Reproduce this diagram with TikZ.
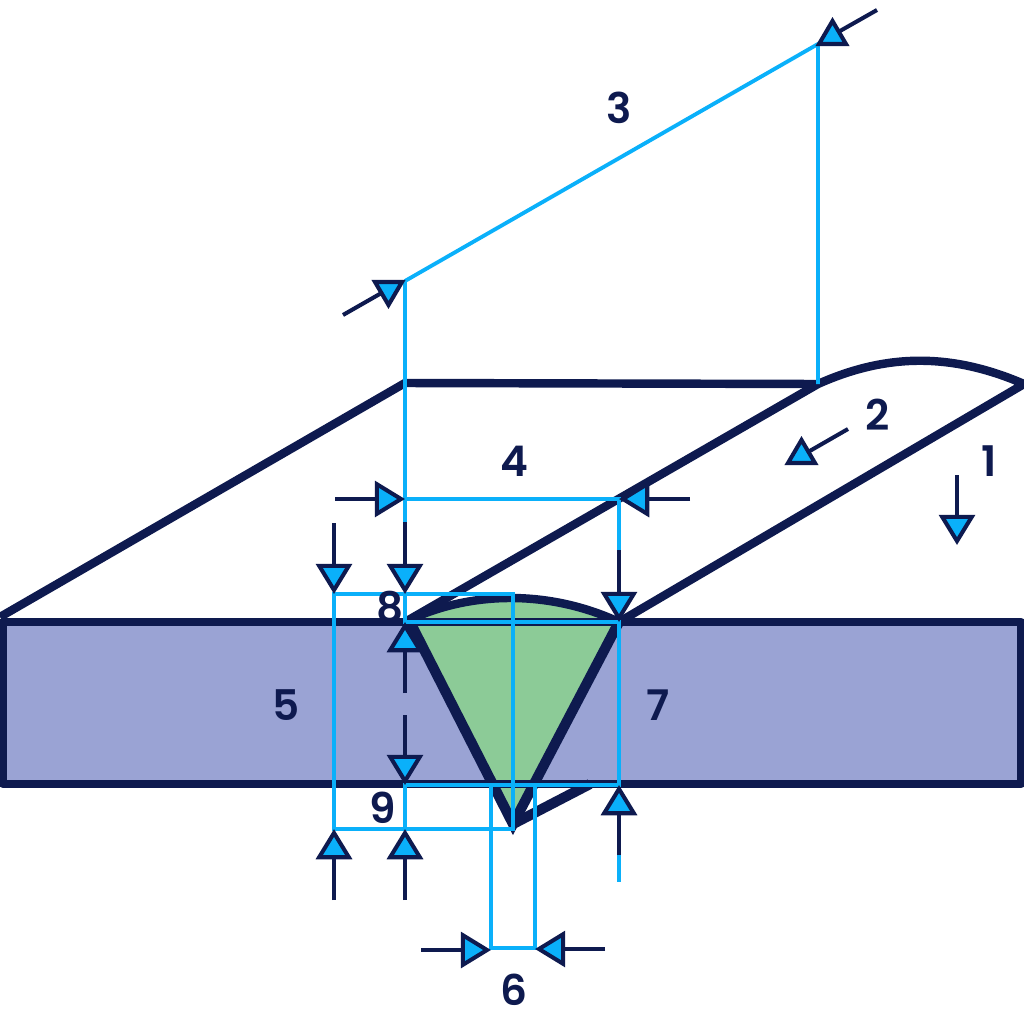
\documentclass[tikz,border=0pt]{standalone}
\usepackage{fontspec}
\setmainfont{Poppins SemiBold}
\usetikzlibrary{arrows.meta}
\definecolor{navy}{HTML}{0E1A4F}
\definecolor{sky}{HTML}{0AB0FA}
\definecolor{plate}{HTML}{9AA3D4}
\definecolor{bead}{HTML}{8CCB97}
\begin{document}
\begin{tikzpicture}[x=0.01cm, y=-0.01cm,% styles used in image code
   > = {Triangle[length=8.6pt, width=10.2pt, fill=sky, color=navy]},
edge/.style = {draw=navy, line width=2.4pt, line join=round},
guide/.style = {draw=sky, line width=1.1pt},
dim/.style = {draw=navy, line width=1.15pt, ->},
tri/.style = {draw=navy, fill=sky, line width=1.15pt, line join=miter},
num/.style = {text=navy, font=\fontsize{12}{12}\selectfont, inner sep=0pt}
                        ]
	\useasboundingbox (0,0) rectangle (1024,1024);

	\coordinate (L) at (405,622);
	\coordinate (V) at (410,622);
	\coordinate (R) at (619,622);
	\coordinate (root) at (513,824);
	\coordinate (backL) at (405,383);
	\coordinate (backR) at (818,384);
	\coordinate (tipR) at (1024,384);
	\coordinate (farL) at (405,281);
	\coordinate (farR) at (818,44);

	% plate and weld
	\path[fill=plate] (3,622) rectangle (1021,784);
	\path[fill=bead] (L) .. controls (470,590) and (550,590) .. (R) -- (root) -- cycle;
	\draw[edge] (3,622) rectangle (1021,784);
	\draw[edge] (0,617) -- (backL) -- (backR);
	\draw[edge] (L) -- (backR) .. controls (885,354) and (950,352) .. (tipR) -- (R);
	\draw[edge] (L) .. controls (470,590) and (550,590) .. (R);
	\draw[edge, line width=2.9pt] (590,784) -- (root);
	\draw[edge, line width=2.9pt, line join=miter] (V) -- (root) -- (R);

	% cyan guides
	\draw[guide] (farL) -- (farR) -- (backR);
	\draw[guide] (farL) -- (405,522);
	\draw[guide] (405,499) -- (619,499) -- (619,550);
	\draw[guide] (334,594) rectangle (513,829);
	\draw[guide] (405,594) -- (L) -- (R) -- (619,785) -- (405,785) -- (405,829);
	\draw[guide] (491,785) -- (491,948) -- (535,948) -- (535,785);
	\draw[guide] (619,855) -- (619,882);

	% dimension arrows
	\draw[dim] (334,523) -- (334,594);
	\draw[dim] (405,522) -- (405,594);
	\draw[dim] (619,550) -- (R);
	\draw[dim] (334,900) -- (334,829);
	\draw[dim] (405,900) -- (405,829);
	\draw[dim] (619,855) -- (619,785);
	\draw[dim] (405,693) -- (L);
	\draw[dim] (405,715) -- (405,785);
	\draw[dim] (335,499) -- (405,499);
	\draw[dim] (690,499) -- (619,499);
	\draw[dim] (421,950) -- (491,950);
	\draw[dim] (605,949) -- (535,949);
	\draw[dim] (957,475) -- (957,545);

	% slanted leaders with upright heads
	\draw[navy, line width=1.15pt] (343,315) -- (385,291);
	\draw[navy, line width=1.15pt] (877,10) -- (840,31);
	\draw[navy, line width=1.15pt] (848,429) -- (808,452);
	\draw[tri] (375,282) -- (402,282) -- (388.5,305) -- cycle;
	\draw[tri] (819,44) -- (846,44) -- (832.5,21) -- cycle;
	\draw[tri] (788,463) -- (815,463) -- (801.5,440) -- cycle;

	\node[num] (n1) at (989,461) {1};
	\node[num] (n2) at (878,415) {2};
	\node[num] (n3) at (619,108) {3};
	\node[num] (n4) at (514,461) {4};
	\node[num] (n5) at (286,705) {5};
	\node[num] (n6) at (514,990) {6};
	\node[num] (n7) at (658,705) {7};
	\node[num] (n8) at (390,607) {8};
	\node[num] (n9) at (383,808) {9};
\end{tikzpicture}
\end{document}
